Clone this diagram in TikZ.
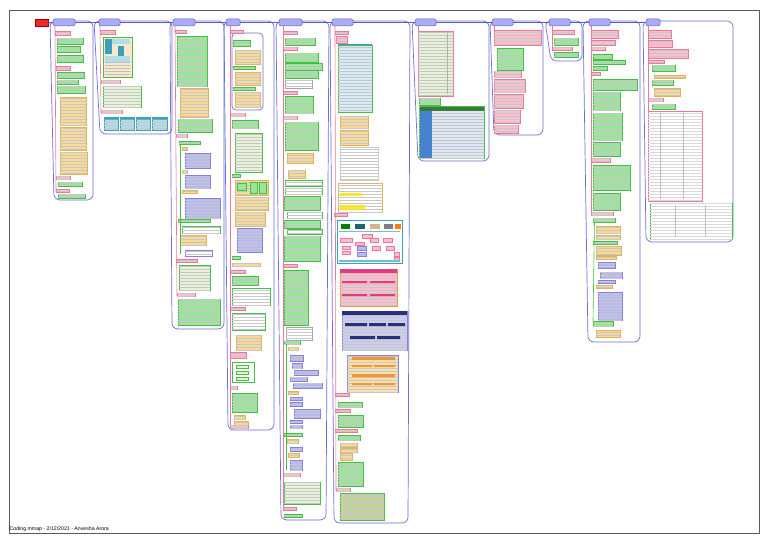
\documentclass[tikz,border=0pt]{standalone}
\usepackage{fontspec}
\newfontfamily\ftr{Liberation Sans}
\usetikzlibrary{fit,patterns}
\definecolor{cgreen}{RGB}{150,232,150}
\definecolor{cgreenD}{RGB}{70,190,70}
\definecolor{cyel}{RGB}{250,216,150}
\definecolor{cyelD}{RGB}{225,180,90}
\definecolor{cblue}{RGB}{184,184,242}
\definecolor{cblueD}{RGB}{130,130,220}
\definecolor{cpink}{RGB}{250,190,205}
\definecolor{cpinkD}{RGB}{235,120,155}
\definecolor{chead}{RGB}{172,172,242}
\definecolor{cheadD}{RGB}{90,90,215}
\definecolor{cbound}{RGB}{110,110,218}
\definecolor{croot}{RGB}{240,40,40}
\definecolor{cteal}{RGB}{60,160,185}
\definecolor{ctealL}{RGB}{175,222,235}
\definecolor{cpeach}{RGB}{250,232,205}
\definecolor{cpale}{RGB}{232,242,215}
\definecolor{cltblue}{RGB}{212,234,246}
\definecolor{colive}{RGB}{196,212,150}
\definecolor{cnavy}{RGB}{40,50,120}
\definecolor{clav}{RGB}{205,205,240}
\definecolor{corange}{RGB}{240,150,60}
\definecolor{corL}{RGB}{250,225,170}
\definecolor{cmag}{RGB}{225,60,130}
\definecolor{cdkgreen}{RGB}{55,125,55}
\definecolor{ccellblue}{RGB}{70,130,205}
\definecolor{crowblue}{RGB}{220,232,248}
\newcommand\bx[4]{\node[#2,fit={(#3)(#4)}] (#1) {};}
\tikzset{
  txt/.style={postaction={pattern=horizontal lines, pattern color=black!22}},
  bxbase/.style={inner sep=0pt, outer sep=0pt, line width=0.3pt},
  gb/.style={bxbase, fill=cgreen, draw=cgreenD, txt},
  yb/.style={bxbase, fill=cyel, draw=cyelD, txt},
  bb/.style={bxbase, fill=cblue, draw=cblueD, txt},
  pb/.style={bxbase, fill=cpink, draw=cpinkD, txt},
  wb/.style={bxbase, fill=white, draw=cgreenD, line width=0.6pt, txt},
  wgray/.style={bxbase, fill=white, draw=black!35, txt},
  hb/.style={bxbase, fill=chead, draw=cheadD, rounded corners=1.5pt, line width=0.5pt},
  bound/.style={draw=cbound, line width=0.7pt, rounded corners=6pt},
  plink/.style={draw=cpinkD, line width=0.6pt},
  glink/.style={draw=cgreenD, line width=0.6pt},
  mainline/.style={draw=cheadD, line width=1.2pt},
}
\begin{document}
\begin{tikzpicture}[x=1pt,y=-1pt]
\useasboundingbox (0,0) rectangle (768,543);
\fill[white] (0,0) rectangle (768,543);
\draw[black!65, line width=0.9pt] (9,10) rectangle (759,533);

% boundaries
\draw[bound] (50,21) -- (93,21) -- (93,200) -- (54,200) -- cycle;
\draw[bound] (94,21) -- (172,21) -- (172,134) -- (100,134) -- cycle;
\draw[bound] (170,21) -- (224,21) -- (224,329) -- (172,329) -- cycle;
\draw[bound] (224,21) -- (274,21) -- (274,430) -- (228,430) -- cycle;
\draw[bound] (276,21) -- (329,21) -- (326,520) -- (281,520) -- cycle;
\draw[bound] (330,21) -- (410,21) -- (408,523) -- (334,523) -- cycle;
\draw[bound] (412,21) -- (489,21) -- (489,161) -- (418,161) -- cycle;
\draw[bound] (490,21) -- (543,21) -- (543,135) -- (494,135) -- cycle;
\draw[bound] (545,21) -- (582,21) -- (582,61) -- (551,61) -- cycle;
\draw[bound] (583,21) -- (640,21) -- (640,342) -- (588,342) -- cycle;
\draw[bound] (643,21) -- (733,21) -- (733,242) -- (646,242) -- cycle;
\draw[bound, rounded corners=4pt] (232,33) rectangle (263,110);

% root and headers
\node[bxbase, fill=croot, draw=red!60!black, line width=0.5pt, fit={(35,19.5)(48,26.5)}] (root) {};
\bx{h1}{hb}{53,19}{75,26}
\bx{h2}{hb}{99,19}{120,26}
\bx{h3}{hb}{173,19}{195,26}
\bx{h4}{hb}{226,19}{240,26}
\bx{h5}{hb}{279,19}{302,26}
\bx{h6}{hb}{332,19}{353,26}
\bx{h7}{hb}{415,19}{436,26}
\bx{h8}{hb}{492,19}{513,26}
\bx{h9}{hb}{549,19}{570,26}
\bx{h10}{hb}{589,19}{610,26}
\bx{h11}{hb}{646,19}{660,26}
\draw[mainline] (root.east) -- (h1.west);
\draw[mainline] (h1.east) -- (h2.west);
\draw[mainline] (h2.east) -- (h3.west);
\draw[mainline] (h3.east) -- (h4.west);
\draw[mainline] (h4.east) -- (h5.west);
\draw[mainline] (h5.east) -- (h6.west);
\draw[mainline] (h6.east) -- (h7.west);
\draw[mainline] (h7.east) -- (h8.west);
\draw[mainline] (h8.east) -- (h9.west);
\draw[mainline] (h9.east) -- (h10.west);
\draw[mainline] (h10.east) -- (h11.west);

% ---------- column 1
\bx{a1}{pb}{55,31}{70,35}
\bx{a2}{gb}{57,38}{83,44}
\bx{a3}{gb}{57,46}{80,52}
\bx{a4}{gb}{57,55}{83,62}
\bx{a5}{pb}{56,66}{70,70}
\bx{a6}{gb}{57,72}{84,78}
\bx{a7}{gb}{57,80}{78,84}
\bx{a8}{gb}{57,86}{85,93}
\bx{a9}{yb}{60,97}{86,125}
\bx{a10}{yb}{60,127}{86,150}
\bx{a11}{yb}{60,152}{87,174}
\bx{a12}{pb}{56,176}{70,179}
\bx{a13}{gb}{58,182}{82,186}
\bx{a14}{pb}{56,189}{69,192}
\bx{a15}{gb}{58,194}{85,198}
\draw[plink] (h1.south -| a1.west) -- (a14.south west);

% ---------- column 2
\bx{b1}{pb}{100,30}{115,34}
\node[bxbase, fill=cpeach, draw=cgreenD, line width=0.6pt, fit={(103,37)(132,77)}] (b2) {};
\fill[cteal] (105,39) rectangle (112,54);
\fill[ctealL] (112,39) rectangle (130,44);
\fill[cteal] (118,46) rectangle (124,60);
\fill[ctealL] (105,56) rectangle (130,62);
\fill[pattern=horizontal lines, pattern color=black!25] (105,62) rectangle (130,76);
\bx{b3}{pb}{101,80}{120,83}
\node[bxbase, fill=cpale, draw=cgreenD, line width=0.7pt, txt, fit={(103,86)(141,107)}] (b4) {};
\bx{b5}{pb}{101,110}{122,113}
\node[bxbase, fill=ctealL, draw=cteal, line width=0.5pt, txt, fit={(104,117)(118,130)}] (b6) {};
\node[bxbase, fill=ctealL, draw=cteal, line width=0.5pt, txt, fit={(120,117)(134,130)}] (b7) {};
\node[bxbase, fill=ctealL, draw=cteal, line width=0.5pt, txt, fit={(136,117)(150,130)}] (b8) {};
\node[bxbase, fill=ctealL, draw=cteal, line width=0.5pt, txt, fit={(152,117)(167,130)}] (b9) {};
\fill[cteal] (104,117) rectangle (118,119.5) (120,117) rectangle (134,119.5) (136,117) rectangle (150,119.5) (152,117) rectangle (167,119.5);
\draw[plink] (h2.south -| b1.west) -- (b5.south west);

% ---------- column 3
\bx{c1}{pb}{175,30}{186,33}
\bx{c2}{gb}{177,36}{207,86}
\bx{c3}{yb}{180,88}{208,117}
\bx{c4}{gb}{178,119}{212,132}
\bx{c5}{pb}{176,134}{187,137}
\bx{c6}{gb}{179,141}{200,144}
\bx{c7}{yb}{182,147}{187,150}
\bx{c8}{bb}{185,153}{210,168}
\bx{c9}{yb}{182,170}{187,173}
\bx{c10}{bb}{185,175}{210,188}
\bx{c11}{yb}{182,190}{197,193}
\bx{c12}{bb}{185,198}{220,218}
\bx{c13}{gb}{178,219}{210,222}
\bx{c14}{wb}{182,226}{220,233}
\bx{c15}{yb}{180,235}{206,245}
\node[bxbase, fill=white, draw=cblueD, line width=0.5pt, txt, fit={(185,250)(212,256)}] (c16) {};
\bx{c17}{pb}{176,259}{197,262}
\node[bxbase, fill=cpale, draw=cgreenD, line width=0.8pt, txt, fit={(179,265)(210,290)}] (c18) {};
\bx{c19}{pb}{177,293}{195,296}
\bx{c20}{gb}{178,299}{220,325}
\draw[plink] (h3.south -| c1.west) -- (c19.south west);
\draw[glink] (c6.south west) ++(1.5,0) -- ++(0,110);

% ---------- column 4
\bx{d1}{pb}{230,30}{243,33}
\bx{d2}{gb}{233,40}{250,46}
\bx{d3}{yb}{235,50}{260,64}
\bx{d4}{gb}{233,66}{255,69}
\bx{d5}{yb}{235,72}{260,85}
\bx{d6}{gb}{233,87}{255,90}
\bx{d7}{yb}{235,92}{260,107}
\bx{d8}{pb}{230,113}{245,116}
\bx{d9}{gb}{232,120}{258,128}
\node[bxbase, fill=cpale, draw=cgreenD, line width=0.6pt, txt, fit={(235,133)(262,172)}] (d10) {};
\bx{d11}{gb}{232,174}{240,177}
\bx{d12}{yb}{235,180}{268,195}
\draw[fill=cgreen, draw=cgreenD, line width=0.3pt] (237,183) rectangle (246,190) (250,182) rectangle (257,193) (259,182) rectangle (266,193);
\bx{d13}{yb}{235,197}{268,210}
\bx{d14}{yb}{235,212}{265,226}
\bx{d15}{bb}{237,228}{262,252}
\bx{d16}{gb}{232,256}{240,259}
\bx{d17}{yb}{232,263}{260,266}
\bx{d18}{pb}{230,270}{245,273}
\bx{d19}{gb}{232,276}{258,285}
\bx{d20}{wb}{232,288}{270,305}
\bx{d21}{pb}{230,307}{245,310}
\bx{d22}{wb}{232,313}{265,330}
\bx{d23}{yb}{236,335}{261,350}
\bx{d24}{pb}{230,352}{246,358}
\node[bxbase, fill=white, draw=cgreenD, line width=0.6pt, fit={(232,362)(254,382)}] (d25) {};
\draw[fill=cpale, draw=cgreenD, line width=0.3pt] (236,365) rectangle (248,368) (236,371) rectangle (248,374) (236,377) rectangle (248,380);
\bx{d26}{pb}{230,386}{237,389}
\bx{d27}{gb}{232,393}{257,412}
\bx{d28}{yb}{234,415}{245,419}
\bx{d29}{yb}{234,421}{248,425}
\bx{d30}{pb}{230,425}{248,428}
\draw[plink] (h4.south -| d1.west) -- (d30.north west);

% ---------- column 5
\bx{e1}{pb}{283,31}{297,34}
\bx{e2}{gb}{285,38}{315,45}
\bx{e3}{pb}{283,47}{297,50}
\bx{e4}{gb}{285,53}{318,62}
\bx{e5}{gb}{285,63}{322,70}
\bx{e6}{gb}{285,71}{318,78}
\bx{e7}{wgray}{285,80}{312,88}
\bx{e8}{pb}{283,91}{297,94}
\bx{e9}{gb}{285,96}{313,113}
\bx{e10}{pb}{283,116}{297,119}
\bx{e11}{gb}{285,122}{318,150}
\bx{e12}{yb}{287,153}{313,163}
\bx{e13}{yb}{288,170}{305,178}
\bx{e14}{wb}{285,180}{322,186}
\bx{e15}{wb}{285,188}{322,194}
\bx{e16}{gb}{284,196}{320,210}
\bx{e17}{wb}{287,212}{322,218}
\bx{e18}{gb}{284,220}{320,228}
\bx{e19}{wb}{287,229}{322,234}
\bx{e20}{gb}{284,236}{320,261}
\bx{e21}{pb}{283,264}{297,267}
\bx{e22}{gb}{284,270}{308,325}
\bx{e23}{wgray}{286,327}{312,340}
\bx{e24}{gb}{284,341}{300,344}
\bx{e25}{yb}{288,347}{298,350}
\bx{e26}{bb}{290,355}{303,361}
\bx{e27}{bb}{292,363}{302,368}
\bx{e28}{bb}{294,370}{318,375}
\bx{e29}{bb}{290,377}{307,381}
\bx{e30}{bb}{293,383}{322,388}
\bx{e31}{yb}{288,391}{298,394}
\bx{e32}{bb}{290,397}{302,400}
\bx{e33}{bb}{290,402}{302,406}
\bx{e34}{bb}{294,409}{320,418}
\bx{e35}{bb}{290,420}{302,423}
\bx{e36}{bb}{290,425}{302,428}
\bx{e37}{gb}{284,433}{302,436}
\bx{e38}{yb}{287,439}{298,443}
\bx{e39}{bb}{290,447}{302,451}
\bx{e40}{yb}{288,453}{299,457}
\bx{e41}{bb}{290,460}{302,470}
\bx{e42}{pb}{283,473}{300,476}
\node[bxbase, fill=cpale, draw=cgreenD, line width=0.6pt, txt, fit={(284,482)(320,504)}] (e43) {};
\bx{e44}{pb}{283,507}{296,510}
\bx{e45}{gb}{284,514}{302,517}
\draw[plink] (h5.south -| e1.west) -- (e44.south west);
\draw[glink] (e24.south west) ++(2,0) -- ++(0,126);

% ---------- column 6
\bx{f1}{pb}{335,31}{348,34}
\bx{f2}{pb}{336,36}{347,43}
\node[bxbase, fill=cltblue, draw=cgreenD, line width=0.8pt, txt, fit={(338,45)(372,112)}] (f3) {};
\draw[cteal, line width=1pt] (338,45) -- (372,45);
\bx{f4}{yb}{340,116}{368,128}
\bx{f5}{yb}{340,130}{368,145}
\node[bxbase, fill=white, draw=black!20, txt, fit={(340,147)(378,180)}] (f6) {};
\node[bxbase, fill=white, draw=cyelD, line width=0.5pt, txt, fit={(338,183)(382,212)}] (f7) {};
\fill[yellow!85!orange, opacity=0.8] (340,193) rectangle (362,196) (340,205) rectangle (365,210);
\bx{f8}{pb}{334,213}{347,216}
\node[bxbase, fill=white, draw=cteal, line width=1pt, fit={(337,220)(402,263)}] (f9) {};
\fill[green!50!black] (341,224) rectangle (350,229);
\fill[black!40!cteal] (355,224) rectangle (365,229);
\fill[brown!60!white] (370,224) rectangle (380,229);
\fill[black!50] (384,224) rectangle (393,229);
\fill[orange] (395,224) rectangle (401,229);
\fill[cteal!70] (339,231) rectangle (400,232);
\draw[fill=cpink, draw=cpinkD, line width=0.3pt] (362,234) rectangle (372,238) (340,238) rectangle (352,242) (355,242) rectangle (364,245) (370,238) rectangle (378,242) (383,238) rectangle (392,242) (342,246) rectangle (350,249) (342,251) rectangle (350,254) (372,246) rectangle (380,250) (386,246) rectangle (394,250) (394,252) rectangle (399,256) (394,257) rectangle (399,260);
\draw[fill=cblue, draw=cblueD, line width=0.3pt] (357,246) rectangle (366,250) (357,252) rectangle (366,256);
\fill[cteal!70] (339,260) rectangle (400,261.5);
\node[bxbase, fill=cpink, draw=corange, line width=0.6pt, txt, fit={(340,269)(397,306)}] (f10) {};
\fill[cmag] (340,269) rectangle (397,273) (342,281) rectangle (367,283) (370,281) rectangle (395,283) (342,294) rectangle (367,296) (370,294) rectangle (395,296);
\node[bxbase, fill=clav, draw=cblueD, line width=0.6pt, txt, fit={(342,311)(407,350)}] (f11) {};
\fill[cnavy] (342,311) rectangle (407,315) (345,323) rectangle (367,326) (369,323) rectangle (386,326) (388,323) rectangle (405,326) (350,336) rectangle (375,339) (377,336) rectangle (400,339);
\node[bxbase, fill=corL, draw=cblueD, line width=0.6pt, txt, fit={(347,355)(398,392)}] (f12) {};
\fill[corange] (352,357) rectangle (395,360) (352,365) rectangle (372,367) (374,365) rectangle (395,367) (352,374) rectangle (395,377) (352,383) rectangle (372,385) (374,383) rectangle (395,385);
\bx{f13}{pb}{335,393}{349,396}
\bx{f14}{gb}{338,402}{362,407}
\bx{f15}{pb}{335,409}{350,412}
\bx{f16}{gb}{338,415}{363,427}
\bx{f17}{pb}{335,429}{357,432}
\bx{f18}{gb}{338,435}{360,440}
\bx{f19}{yb}{340,443}{357,447}
\bx{f20}{yb}{340,448}{357,452}
\bx{f21}{yb}{340,453}{352,460}
\bx{f22}{gb}{338,462}{363,486}
\bx{f23}{pb}{336,488}{350,491}
\node[bxbase, fill=colive, draw=cgreenD, line width=0.6pt, txt, fit={(340,493)(384,520)}] (f24) {};
\draw[plink] (h6.south -| f1.west) -- (f23.south west);

% ---------- column 7
\node[bxbase, fill=cpale, draw=cpinkD, line width=0.9pt, txt, fit={(418,31)(453,96)}] (g1) {};
\draw[black!30, line width=0.3pt] (447,33) -- (447,94);
\bx{g2}{gb}{419,98}{440,105}
\node[bxbase, fill=crowblue, draw=cgreenD, line width=0.9pt, txt, fit={(419,106)(484,158)}] (g3) {};
\fill[cdkgreen] (419.5,106.5) rectangle (483.5,111);
\fill[ccellblue] (419.5,111) rectangle (432,157.5);
\draw[plink] (h7.south -| g1.west) -- (g1.north west);

% ---------- column 8
\bx{k1}{pb}{494,30}{541,45}
\bx{k2}{gb}{497,48}{523,70}
\bx{k3}{pb}{494,71}{521,77}
\bx{k4}{pb}{494,79}{525,92}
\bx{k5}{pb}{494,94}{523,108}
\bx{k6}{pb}{494,110}{520,123}
\bx{k7}{pb}{494,125}{518,133}
\draw[plink] (h8.south -| k1.west) -- (k1.north west);

% ---------- column 9
\bx{m1}{pb}{552,30}{574,34}
\bx{m2}{gb}{554,38}{578,45}
\bx{m3}{pb}{552,47}{572,50}
\bx{m4}{gb}{554,52}{578,57}
\draw[plink] (h9.south -| m1.west) -- (m3.south west);

% ---------- column 10
\bx{n1}{pb}{591,30}{618,38}
\bx{n2}{pb}{591,40}{615,45}
\bx{n3}{pb}{591,47}{605,50}
\bx{n4}{gb}{593,54}{612,59}
\bx{n5}{gb}{593,60}{625,64}
\bx{n6}{gb}{593,66}{607,70}
\bx{n7}{pb}{591,72}{600,75}
\bx{n8}{gb}{593,79}{637,90}
\bx{n9}{gb}{593,92}{620,110}
\bx{n10}{gb}{593,113}{622,140}
\bx{n11}{gb}{593,142}{620,156}
\bx{n12}{pb}{591,158}{610,162}
\bx{n13}{gb}{593,165}{630,190}
\bx{n14}{gb}{593,193}{620,210}
\bx{n15}{pb}{591,212}{613,215}
\bx{n16}{gb}{593,218}{615,222}
\bx{n17}{yb}{596,226}{620,233}
\bx{n18}{yb}{596,235}{620,239}
\bx{n19}{gb}{593,241}{617,244}
\bx{n20}{yb}{596,246}{621,255}
\bx{n21}{yb}{596,256}{616,259}
\bx{n22}{bb}{598,262}{615,268}
\bx{n23}{bb}{600,272}{622,278}
\bx{n24}{bb}{598,280}{615,283}
\bx{n25}{yb}{596,285}{612,288}
\bx{n26}{bb}{598,292}{622,320}
\bx{n27}{gb}{593,321}{613,326}
\bx{n28}{yb}{596,330}{620,337}
\draw[plink] (h10.south -| n1.west) -- (n15.south west);
\draw[glink] (n16.south west) ++(1.5,0) -- (n27.north west);

% ---------- column 11
\bx{q1}{pb}{648,30}{671,38}
\bx{q2}{pb}{648,40}{672,47}
\bx{q3}{pb}{648,49}{688,58}
\bx{q4}{pb}{648,60}{664,63}
\bx{q5}{gb}{652,65}{675,71}
\bx{q6}{yb}{654,75}{685,78}
\bx{q7}{gb}{652,80}{673,85}
\bx{q8}{yb}{654,88}{680,96}
\bx{q9}{pb}{648,98}{663,101}
\bx{q10}{gb}{652,104}{675,109}
\node[bxbase, fill=white, draw=cpinkD, line width=0.8pt, postaction={pattern=horizontal lines, pattern color=black!15}, fit={(648,111)(702,201)}] (q11) {};
\draw[black!25, line width=0.3pt] (660,113) -- (660,199) (683,113) -- (683,199);
\node[bxbase, fill=white, draw=cgreenD, line width=0.8pt, postaction={pattern=horizontal lines, pattern color=black!15}, fit={(650,203)(732,239)}] (q12) {};
\draw[black!25, line width=0.3pt] (675,205) -- (675,237) (705,205) -- (705,237);
\draw[plink] (h11.south -| q1.west) -- (q11.north west);

% footer
\node[font=\ftr\fontsize{5.2}{6}\selectfont, anchor=west, inner sep=0pt] (foot) at (9.5,529) {Coding mmap - 2/12/2021 - Anvesha Arora};
\end{tikzpicture}
\end{document}
